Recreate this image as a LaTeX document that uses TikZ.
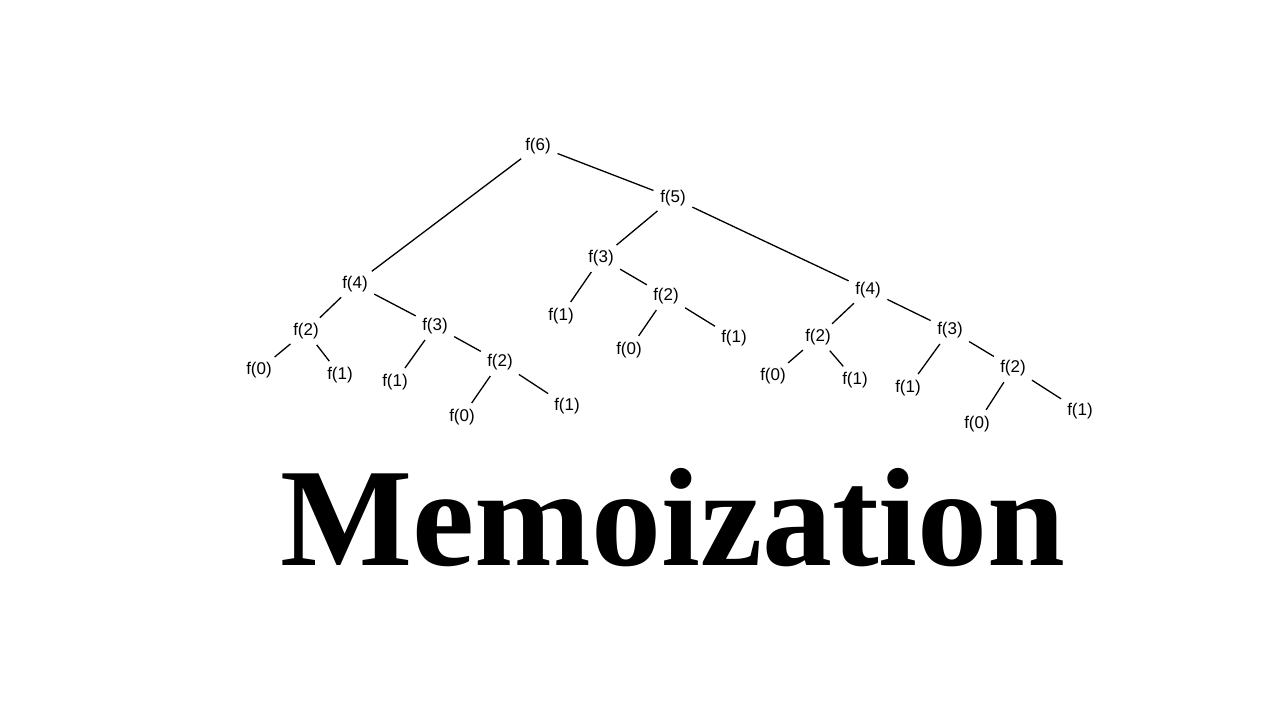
\documentclass[tikz,border=0pt]{standalone}
\usepackage{fontspec}
\setmainfont{Liberation Serif}
\newfontfamily\arialf{Liberation Sans}
\begin{document}
\begin{tikzpicture}[x=1pt,y=-1pt,
  fn/.style={font=\arialf\fontsize{17}{17}\selectfont, inner sep=1pt},
  ed/.style={line width=1.3pt, shorten >=6pt, shorten <=6pt}]
\useasboundingbox (0,0) rectangle (1280,720);
\node[fn] (a) at (538,146) {f(6)};
\node[fn] (b) at (673,198) {f(5)};
\node[fn] (c) at (355,284) {f(4)};
\node[fn] (d) at (601,258) {f(3)};
\node[fn] (e) at (561,316) {f(1)};
\node[fn] (f) at (666,296) {f(2)};
\node[fn] (g) at (629,350) {f(0)};
\node[fn] (h) at (734,338) {f(1)};
\node[fn] (i) at (868,290) {f(4)};
\node[fn] (j) at (306,331) {f(2)};
\node[fn] (k) at (259,370) {f(0)};
\node[fn] (l) at (340,375) {f(1)};
\node[fn] (m) at (435,326) {f(3)};
\node[fn] (n) at (395,382) {f(1)};
\node[fn] (o) at (500,362) {f(2)};
\node[fn] (p) at (462,417) {f(0)};
\node[fn] (q) at (567,406) {f(1)};
\node[fn] (r) at (818,337) {f(2)};
\node[fn] (s) at (773,376) {f(0)};
\node[fn] (t) at (855,380) {f(1)};
\node[fn] (u) at (950,330) {f(3)};
\node[fn] (v) at (908,388) {f(1)};
\node[fn] (w) at (1013,368) {f(2)};
\node[fn] (x) at (977,424) {f(0)};
\node[fn] (y) at (1080,411) {f(1)};
\foreach \p/\c in {a/b,a/c,b/d,b/i,d/e,d/f,f/g,f/h,c/j,c/m,j/k,j/l,m/n,m/o,o/p,o/q,i/r,i/u,r/s,r/t,u/v,u/w,w/x,w/y}
  \draw[ed] (\p) -- (\c);
\node[font=\fontsize{140}{140}\selectfont\bfseries, inner sep=0pt] (title) at (673,518) {Memoization};
\end{tikzpicture}
\end{document}
